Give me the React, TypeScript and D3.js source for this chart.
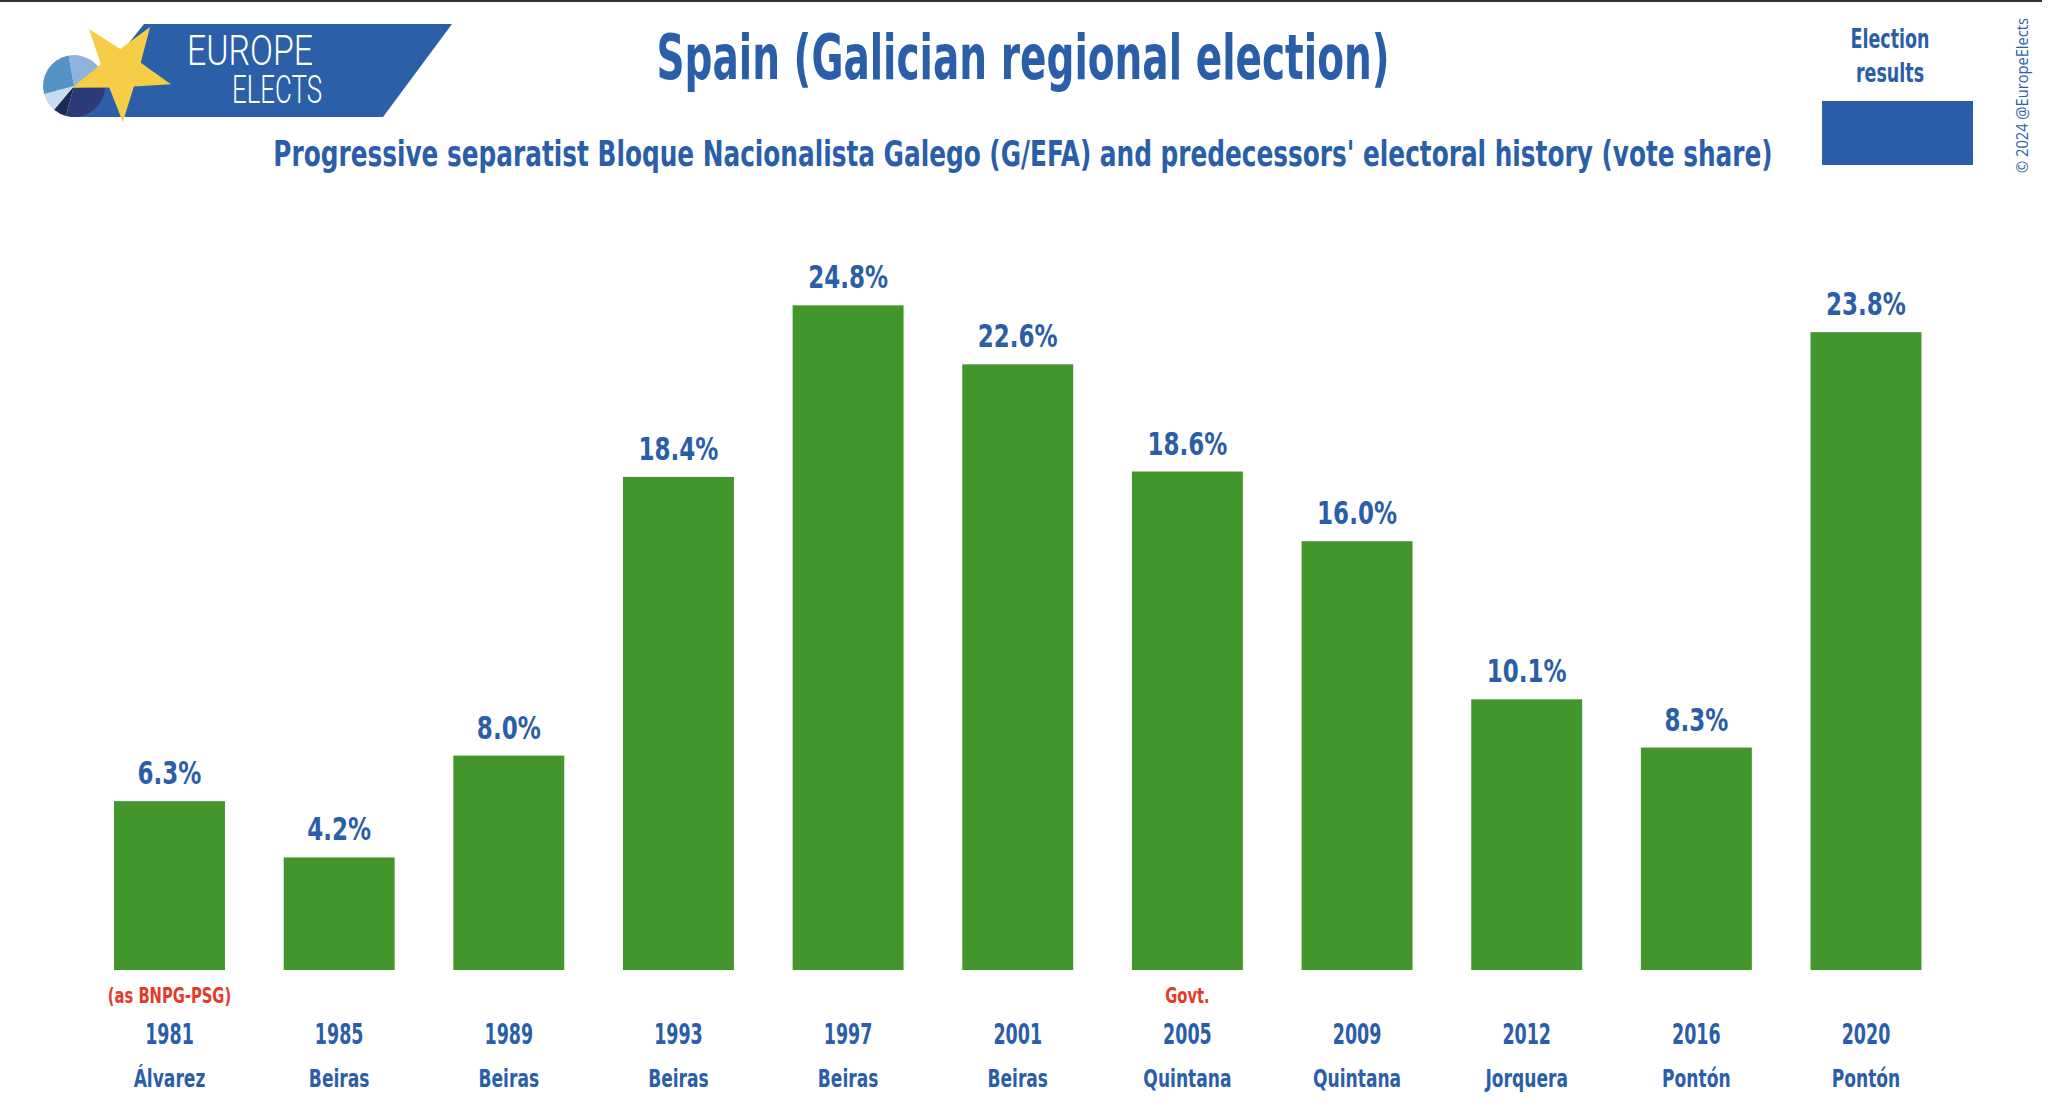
import * as d3 from "d3";

const years = ["1981", "1985", "1989", "1993", "1997", "2001", "2005", "2009", "2012", "2016", "2020"];
const leaders = ["Álvarez", "Beiras", "Beiras", "Beiras", "Beiras", "Beiras", "Quintana", "Quintana", "Jorquera", "Pontón", "Pontón"];
const shares = [6.3, 4.2, 8.0, 18.4, 24.8, 22.6, 18.6, 16.0, 10.1, 8.3, 23.8];
const notes = ["(as BNPG-PSG)", "", "", "", "", "", "Govt.", "", "", "", ""];
// logo pie wedges, in degrees, clockwise from the top
const logoPie = [90, 115, 25, 35, 95];
const logoPieColors = ["#8fb3dc", "#2c3a7a", "#1c2a55", "#c8dcef", "#5592c6"];

const W = 2048;
const H = 1118;
const BLUE = "#2a5ea8";
const GREEN = "#43962b";
const RED = "#e53a2a";
const FONT = "'DejaVu Sans Condensed', 'Liberation Sans Narrow', sans-serif";

const step = 169.65;
const x = d3
  .scaleBand<string>()
  .domain(years)
  .range([169.5 - step / 2, 169.5 + 10 * step + step / 2])
  .paddingInner(0.346)
  .paddingOuter(0.173);

const baseY = 970;
const y = d3.scaleLinear().domain([0, 25]).range([baseY, baseY - 25 * 26.8]);

// narrow text: squeeze horizontally to mimic the condensed font of the original
const NText = ({ x, y, size, sx, fill, children }: { x: number; y: number; size: number; sx: number; fill: string; children: any }) => (
  <text
    transform={`translate(${x},${y}) scale(${sx},1)`}
    textAnchor="middle"
    fill={fill}
    fontFamily={FONT}
    fontWeight={700}
    fontSize={size}
  >
    {children}
  </text>
);

const Logo = () => {
  const arcs = d3
    .pie<number>()
    .sort(null)
    .startAngle((-10 * Math.PI) / 180)
    .endAngle((350 * Math.PI) / 180)(logoPie);
  const arc = d3.arc<d3.PieArcDatum<number>>().innerRadius(0).outerRadius(31);
  const cx = 121;
  const cy = 70;
  const starPts = d3.range(10).map((i) => {
    const a = ((-128 + i * 36) * Math.PI) / 180;
    const r = i % 2 === 0 ? 52 : 21;
    return [cx + r * Math.cos(a), cy + r * Math.sin(a)];
  });
  return (
    <g>
      <polygon points="144,24 452,24 383,117 70,117" fill="#2b5fa8" />
      <g transform="translate(74,86)">
        {arcs.map((a, i) => (
          <path key={i} d={arc(a) || ""} fill={logoPieColors[i]} />
        ))}
      </g>
      <polygon points={starPts.map((p) => p.join(",")).join(" ")} fill="#f5cd47" />
      <text x={187} y={65} fill="#fff" fontFamily="Roboto, sans-serif" fontWeight={300} fontSize={42} textLength={126} lengthAdjust="spacingAndGlyphs">EUROPE</text>
      <text x={232} y={103} fill="#fff" fontFamily="Roboto, sans-serif" fontWeight={300} fontSize={39} textLength={90} lengthAdjust="spacingAndGlyphs">ELECTS</text>
    </g>
  );
};

export default function App() {
  return (
    <svg width={W} height={H} style={{ display: "block", position: "absolute", left: 0, top: 0, background: "#fff" }}>
      <rect x={0} y={0} width={W} height={H} fill="#fff" />
      <rect x={0} y={0} width={W - 6} height={2} fill="#333" />
      <Logo />
      <NText x={1023} y={79} size={62} sx={0.7} fill={BLUE}>Spain (Galician regional election)</NText>
      <NText x={1023} y={166} size={36} sx={0.765} fill={BLUE}>
        Progressive separatist Bloque Nacionalista Galego (G/EFA) and predecessors' electoral history (vote share)
      </NText>
      <NText x={1890} y={48} size={27} sx={0.72} fill={BLUE}>Election</NText>
      <NText x={1890} y={82} size={27} sx={0.72} fill={BLUE}>results</NText>
      <rect x={1822} y={101} width={151} height={64} fill="#2a5ea8" />
      <text transform="translate(2028,173) rotate(-90)" fill={BLUE} fontFamily="'Open Sans', sans-serif" fontWeight={400} fontSize={17} textLength={155} lengthAdjust="spacingAndGlyphs">
        © 2024 @EuropeElects
      </text>
      {years.map((yr, i) => {
        const bx = x(yr) ?? 0;
        const cx = bx + x.bandwidth() / 2;
        const top = y(shares[i]);
        return (
          <g key={yr}>
            <rect x={bx} y={top} width={x.bandwidth()} height={baseY - top} fill={GREEN} />
            <NText x={cx} y={top - 17} size={32} sx={0.8} fill={BLUE}>{shares[i].toFixed(1)}%</NText>
            {notes[i] && (
              <NText x={cx} y={1003} size={21} sx={0.78} fill={RED}>{notes[i]}</NText>
            )}
            <NText x={cx} y={1044} size={29} sx={0.67} fill={BLUE}>{yr}</NText>
            <NText x={cx} y={1087} size={25} sx={0.76} fill={BLUE}>{leaders[i]}</NText>
          </g>
        );
      })}
    </svg>
  );
}
